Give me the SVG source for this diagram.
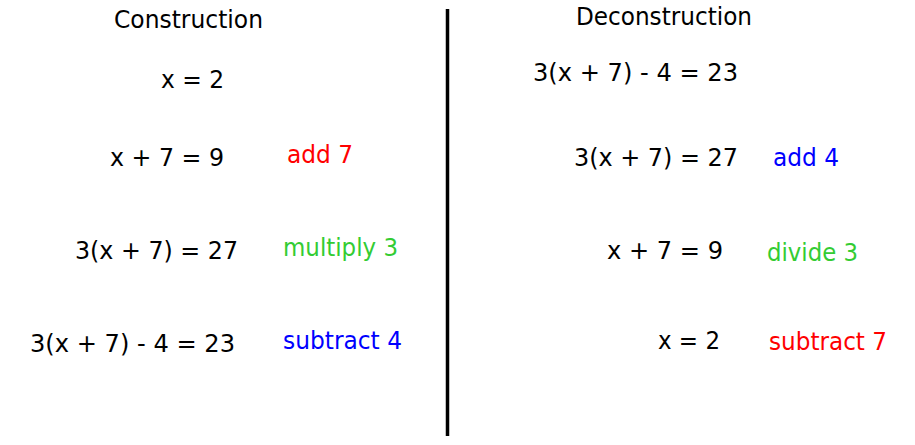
<svg xmlns="http://www.w3.org/2000/svg" width="915" height="445" viewBox="0 0 915 445">
<style>
text{font-family:"DejaVu Sans","Liberation Sans",sans-serif;font-size:24px;fill:#000}
.red{fill:#FF0000}.green{fill:#33CC33}.blue{fill:#0000FF}
</style>
<rect width="915" height="445" fill="#fff"/>
<g id="divider"><line x1="447.5" y1="9" x2="447.5" y2="436" stroke="#000" stroke-width="3.5"/></g>
<g id="construction">
<text x="114" y="28" textLength="149" lengthAdjust="spacingAndGlyphs">Construction</text>
<text x="161" y="88" textLength="63" lengthAdjust="spacingAndGlyphs">x = 2</text>
<text x="110" y="166" textLength="114" lengthAdjust="spacingAndGlyphs">x + 7 = 9</text>
<text class="red" x="287" y="163" textLength="66" lengthAdjust="spacingAndGlyphs">add 7</text>
<text x="75" y="259" textLength="163" lengthAdjust="spacingAndGlyphs">3(x + 7) = 27</text>
<text class="green" x="283" y="256" textLength="115" lengthAdjust="spacingAndGlyphs">multiply 3</text>
<text x="30" y="352" textLength="205" lengthAdjust="spacingAndGlyphs">3(x + 7) - 4 = 23</text>
<text class="blue" x="283" y="349" textLength="119" lengthAdjust="spacingAndGlyphs">subtract 4</text>
</g>
<g id="deconstruction">
<text x="576" y="25" textLength="176" lengthAdjust="spacingAndGlyphs">Deconstruction</text>
<text x="533" y="81" textLength="205" lengthAdjust="spacingAndGlyphs">3(x + 7) - 4 = 23</text>
<text x="574" y="166" textLength="164" lengthAdjust="spacingAndGlyphs">3(x + 7) = 27</text>
<text class="blue" x="773" y="166" textLength="66" lengthAdjust="spacingAndGlyphs">add 4</text>
<text x="607" y="259" textLength="116" lengthAdjust="spacingAndGlyphs">x + 7 = 9</text>
<text class="green" x="767" y="261" textLength="91" lengthAdjust="spacingAndGlyphs">divide 3</text>
<text x="658" y="349" textLength="62" lengthAdjust="spacingAndGlyphs">x = 2</text>
<text class="red" x="769" y="350" textLength="118" lengthAdjust="spacingAndGlyphs">subtract 7</text>
</g>
</svg>
